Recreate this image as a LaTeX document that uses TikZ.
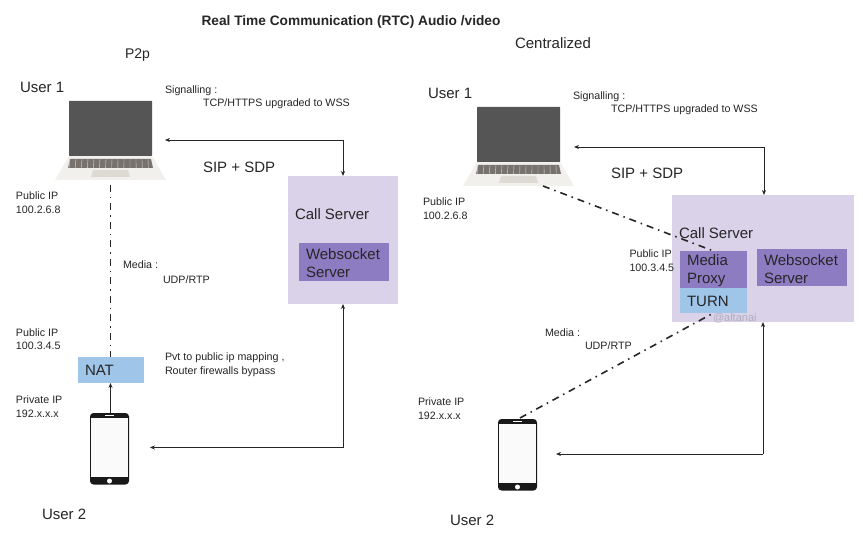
\documentclass[tikz,border=0pt]{standalone}
\usepackage{fontspec}
\setmainfont{Liberation Sans}
\usetikzlibrary{arrows.meta,calc}
\definecolor{lilac}{HTML}{D9D2E9}
\definecolor{violet}{HTML}{8E7CC3}
\definecolor{skyb}{HTML}{9FC5E8}
\definecolor{screen}{HTML}{555555}
\definecolor{keys}{HTML}{77726E}
\definecolor{base}{HTML}{F1F0ED}
\definecolor{pad}{HTML}{DDDAD3}
\tikzset{
  x=1pt,y=-1pt,
  box/.style={draw=none,inner sep=0pt,outer sep=0pt},
  lbl/.style={anchor=west,inner sep=0pt,outer sep=0pt,align=left,text=black!85},
  small/.style={lbl,yshift=-1pt,font=\fontsize{10.7}{13.5}\selectfont},
  mid/.style={lbl,yshift=-1pt,font=\fontsize{15}{17}\selectfont},
  big/.style={lbl,font=\fontsize{15}{20}\selectfont,text=black!85},
  conn/.style={line width=0.75pt,-{Stealth[length=5pt,width=4pt]},black!85},
  media/.style={line width=1.6pt,black!85,dash pattern=on 7pt off 5pt on 1.5pt off 5pt},
  laptop/.pic={
    \fill[base] (-14,79) -- (0,55) -- (83,55) -- (97,79) -- cycle;
    \fill[screen,rounded corners=0.5pt] (0,0) rectangle (83,55);
    \fill[keys] (1,58) -- (82,58) -- (84,67) -- (-1,67) -- cycle;
    \foreach \i in {0,...,13}{\draw[base!80!keys,line width=0.4pt] ({1+\i*6},58) -- ({\i*6.1},67);}
    \fill[pad] (24,69) -- (59,69) -- (61,76) -- (22,76) -- cycle;
  },
  phone/.pic={
    \fill[black!90,rounded corners=3.5pt] (0,0) rectangle (39,71.5);
    \fill[black!2] (1.3,5) rectangle (37.7,64);
    \fill[white] (15,2) rectangle (24,3.4);
    \fill[white] (19.5,68) circle (2.5);
  }
}
\begin{document}
\begin{tikzpicture}
\useasboundingbox[fill=white] (0,0) rectangle (863,540);

% Left side
\pic at (69,101) {laptop};
\pic at (90,413) {phone};
\node[box,fill=lilac,minimum width=110pt,minimum height=128pt] (cs1) at (343,240) {};
\node[box,fill=violet,minimum width=90pt,minimum height=38pt] (ws1) at (344,262) {};
\node[box,fill=skyb,minimum width=66pt,minimum height=26pt] (nat) at (111,370) {};
\coordinate (lap1r) at (165,140);
\coordinate (lap1b) at (110.5,185);
\coordinate (ph1t) at (110.5,413);
\coordinate (ph1r) at (150,447.5);

% Right side
\pic at (477,107) {laptop};
\pic at (498,419) {phone};
\node[box,fill=lilac,minimum width=182pt,minimum height=127pt] (cs2) at (763,258.5) {};
\node[box,fill=violet,minimum width=67pt,minimum height=37pt] (mp) at (713.5,269.5) {};
\node[box,fill=skyb,minimum width=67pt,minimum height=25pt] (turn) at (713.5,300.5) {};
\node[box,fill=violet,minimum width=90pt,minimum height=37pt] (ws2) at (802,267.5) {};
\coordinate (lap2r) at (574,147);
\coordinate (lap2b) at (543,186);
\coordinate (ph2t) at (520,418);
\coordinate (ph2r) at (556,454);

% Connectors left
\draw[conn] (343,140) -- (lap1r);
\draw[conn] (343,140) -- (cs1.north -| 343,140);
\draw[media] (lap1b) -- (nat.north -| lap1b);
\draw[conn] (ph1t) -- (nat.south -| ph1t);
\draw[conn] (343,447.5) -- (ph1r);
\draw[conn] (343,447.5) -- (cs1.south -| 343,447.5);

% Connectors right
\draw[conn] (764,147) -- (lap2r);
\draw[conn] (764,147) -- (cs2.north -| 764,147);
\draw[media] (lap2b) -- (mp.north);
\draw[media] (ph2t) -- (turn.south);
\draw[conn] (763,454) -- (ph2r);
\draw[conn] (763,454) -- (cs2.south -| 763,454);

% Text
\node[lbl,anchor=center,font=\bfseries\fontsize{13.7}{16}\selectfont] (title) at (351,21.5) {Real Time Communication (RTC) Audio /video};
\node[lbl,font=\fontsize{14}{17}\selectfont] (t1) at (125,55) {P2p};
\node[mid] (t2) at (515,42) {Centralized};
\node[big] (u1) at (20,87) {User 1};
\node[big] (u2) at (42,514) {User 2};
\node[big] (u3) at (428,93) {User 1};
\node[big] (u4) at (450,520) {User 2};
\node[small] (s1) at (165,90) {Signalling :};
\node[small] (s2) at (203,102.5) {TCP/HTTPS upgraded to WSS};
\node[small] (s3) at (573,96) {Signalling :};
\node[small] (s4) at (611,108.5) {TCP/HTTPS upgraded to WSS};
\node[mid] (sip1) at (203,166) {SIP + SDP};
\node[mid] (sip2) at (611,172) {SIP + SDP};
\node[small] (ip1) at (16,201.5) {Public IP\\100.2.6.8};
\node[small] (ip2) at (16,338) {Public IP\\100.3.4.5};
\node[small] (ip3) at (16,405.5) {Private IP\\192.x.x.x};
\node[small] (ip4) at (423,207.5) {Public IP\\100.2.6.8};
\node[small] (ip5) at (629.5,259.5) {Public IP\\100.3.4.5};
\node[small] (ip6) at (418,407.5) {Private IP\\192.x.x.x};
\node[small] (m1) at (123,264) {Media :};
\node[small] (m2) at (163,279) {UDP/RTP};
\node[small] (m3) at (545,332) {Media :};
\node[small] (m4) at (585,345) {UDP/RTP};
\node[small] (pv) at (165,363.5) {Pvt to public ip mapping ,\\Router firewalls bypass};
\node[mid] (cst1) at (295,213) {Call Server};
\node[mid] (cst2) at (679,232) {Call Server};
\node[mid,font=\fontsize{15}{18}\selectfont] (wst1) at (306,262) {Websocket\\Server};
\node[mid,font=\fontsize{15}{18}\selectfont] (wst2) at (764,268) {Websocket\\Server};
\node[mid,font=\fontsize{15}{18}\selectfont] (mpt) at (687,270) {Media\\Proxy};
\node[mid] (turnt) at (687,300) {TURN};
\node[big] (natt) at (85,370) {NAT};
\node[lbl,font=\fontsize{11}{13}\selectfont,text=lilac!82!black] (wm) at (713,318.5) {@altanai};
\end{tikzpicture}
\end{document}
